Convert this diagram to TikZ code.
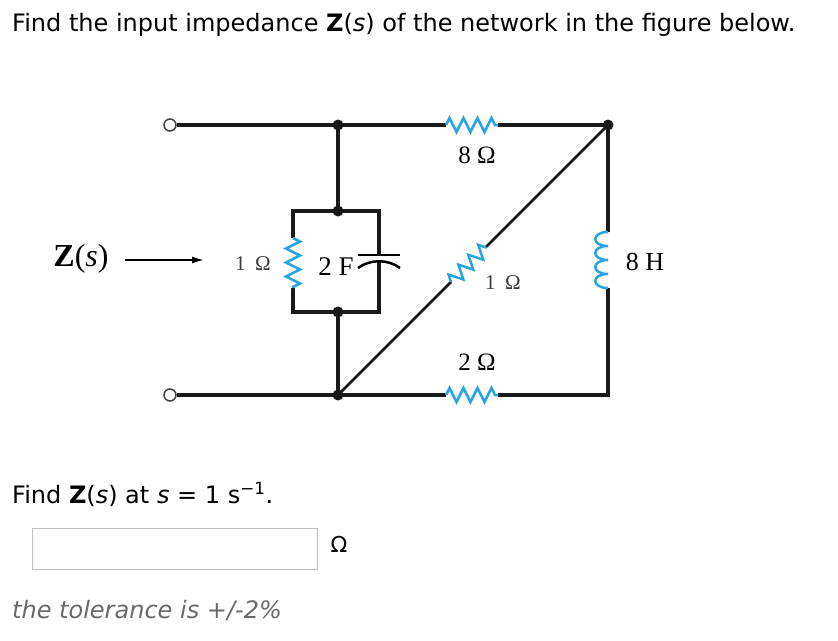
\documentclass[tikz,border=0pt]{standalone}
\usepackage{fontspec}
\setmainfont{DejaVu Sans}
\newfontfamily\ser{Liberation Serif}
\usetikzlibrary{decorations.pathmorphing,arrows.meta}
\definecolor{resblue}{RGB}{40,165,225}
\definecolor{boxgray}{RGB}{190,190,190}
\definecolor{tolgray}{RGB}{105,105,105}
\definecolor{lblgray}{RGB}{60,60,60}
\tikzset{
  wire/.style={line width=4pt,black!90},
  thinwire/.style={line width=2.5pt,black!90},
  resistor/.style={line width=2.5pt,resblue,decorate,decoration={zigzag,segment length=14pt,amplitude=7pt}},
  coilstyle/.style={line width=2.5pt,resblue},
  dotnode/.style={circle,fill=black!90,inner sep=0pt,minimum size=11pt},
  terminal/.style={circle,draw=black!75,line width=1.5pt,fill=white,inner sep=0pt,minimum size=12pt},
  lbl/.style={font=\ser\fontsize{25}{25}\selectfont,inner sep=1pt},
  smalllbl/.style={font=\ser\fontsize{21}{21}\selectfont,text=lblgray,inner sep=1pt},
  webtext/.style={font=\fontsize{24}{28}\selectfont,anchor=west,inner sep=0pt},
}
\begin{document}
\begin{tikzpicture}[x=1pt,y=-1pt]
\useasboundingbox[fill=white] (0,0) rectangle (838,640);

% title
\node[webtext] (title) at (12,25) {Find the input impedance \textbf{Z}(\textit{s}) of the network in the figure below.};

% coordinates
\coordinate (jT) at (338,125);
\coordinate (jB) at (338,395);
\coordinate (cTR) at (608,125);
\coordinate (cBR) at (608,395);
\coordinate (bT) at (338,211);
\coordinate (bB) at (338,312);
\coordinate (bTL) at (293,211);
\coordinate (bTR) at (379,211);
\coordinate (bBL) at (293,312);
\coordinate (bBR) at (379,312);
\coordinate (r8a) at (446,125);
\coordinate (r8b) at (498,125);
\coordinate (r2a) at (446,395);
\coordinate (r2b) at (498,395);
\coordinate (La) at (608,232);
\coordinate (Lb) at (608,288);
\coordinate (rda) at (451,282);
\coordinate (rdb) at (486,247);
\coordinate (rla) at (293,238);
\coordinate (rlb) at (293,288);
\coordinate (c1) at (379,255);
\coordinate (c2) at (379,262);

% terminals
\node[terminal] (tA) at (170,125) {};
\node[terminal] (tB) at (170,395) {};

% wires
\draw[wire] (tA) -- (r8a);
\draw[wire] (r8b) -- (cTR) -- (La);
\draw[wire] (Lb) -- (cBR) -- (r2b);
\draw[wire] (r2a) -- (tB);
\draw[wire] (jT) -- (bT);
\draw[wire] (jB) -- (bB);
\draw[wire] (rla) -- (bTL) -- (bTR) -- (c1);
\draw[wire] (rlb) -- (bBL) -- (bBR) -- (c2);
\draw[thinwire] (jB) -- (rda);
\draw[thinwire] (rdb) -- (cTR);

% resistors
\draw[resistor] (r8a) -- (r8b);
\draw[resistor] (r2a) -- (r2b);
\draw[resistor] (rla) -- (rlb);
\draw[resistor] (rda) -- (rdb);

% inductor
\draw[coilstyle] (La) .. controls +(-17,0) and +(-17,0) .. ++(0,14)
  .. controls +(-17,0) and +(-17,0) .. ++(0,14)
  .. controls +(-17,0) and +(-17,0) .. ++(0,14)
  .. controls +(-17,0) and +(-17,0) .. (Lb);

% capacitor
\draw[line width=2.5pt] (358,255) -- (400,255);
\draw[line width=2.5pt] (358,268) .. controls (370,259) and (388,259) .. (400,268);

% dots
\node[dotnode] (dT) at (jT) {};
\node[dotnode] (dB) at (jB) {};
\node[dotnode] (dbT) at (bT) {};
\node[dotnode] (dbB) at (bB) {};
\node[dotnode] (dTR) at (cTR) {};

% labels
\node[lbl] (l8) at (477,155) {8 Ω};
\node[lbl] (l2) at (477,362) {2 Ω};
\node[lbl,font=\ser\fontsize{26}{26}\selectfont] (l8H) at (645,262) {8 H};
\node[lbl,font=\ser\fontsize{27}{27}\selectfont] (l2F) at (336,267) {2 F};
\node[smalllbl] (l1a) at (253,264) {1\hspace{0.45em}Ω};
\node[smalllbl] (l1b) at (503,283) {1\hspace{0.45em}Ω};
\node[font=\ser\fontsize{32}{32}\selectfont,inner sep=1pt] (Zs) at (81,259) {\textbf{Z}(\textit{s})};
\coordinate (arrEnd) at (204,260);
\draw[line width=1.5pt,-{Latex[length=12pt,width=7pt]}] (125,260) -- (arrEnd);

% question
\node[webtext] (q) at (12,494) {Find \textbf{Z}(\textit{s}) at \textit{s} = 1 s\textsuperscript{−1}.};
\node[draw=boxgray,line width=1pt,minimum width=285pt,minimum height=41pt,anchor=north west,inner sep=0pt] (ans) at (32,528) {};
\node[font=\fontsize{22}{22}\selectfont,inner sep=0pt] (om) at (339,544) {Ω};
\node[webtext,text=tolgray] (tol) at (12,610) {\textit{the tolerance is +/-2\%}};
\end{tikzpicture}
\end{document}
